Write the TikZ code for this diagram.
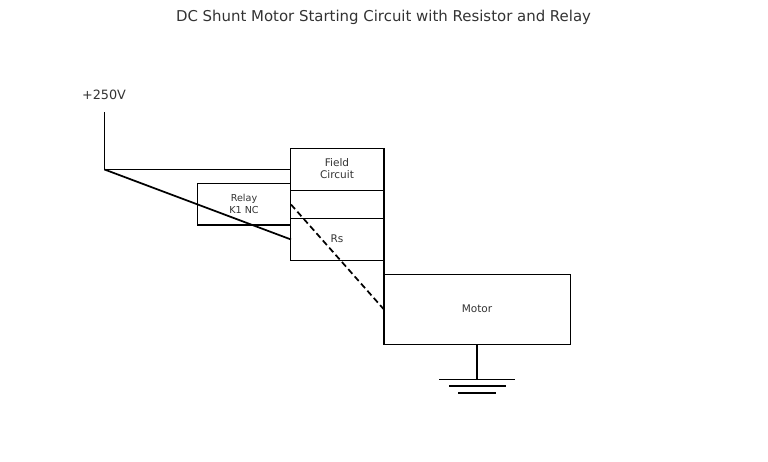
\documentclass[tikz,border=0pt]{standalone}
\usepackage{fontspec}
\setmainfont{DejaVu Sans}
\tikzset{
  x=0.75pt,y=-0.75pt,
  wire/.style={draw=black,line width=0.8pt},
  heavy wire/.style={draw=black,line width=1.3pt},
  block/.style={draw=black,line width=0.75pt,rectangle,inner sep=0pt,anchor=north west,fill=none},
  lab/.style={text=black!80,font=\fontsize{7.9pt}{9pt}\selectfont,align=center,inner sep=0pt},
  relaylab/.style={text=black!80,font=\fontsize{7.2pt}{8.4pt}\selectfont,align=center,inner sep=0pt},
  biglab/.style={text=black!80,font=\fontsize{11.2pt}{13pt}\selectfont,inner sep=0pt}
}
\begin{document}
\begin{tikzpicture}
\useasboundingbox (0,0) rectangle (768,461);
\node[biglab] (title) at (383.5,17.5) {DC Shunt Motor Starting Circuit with Resistor and Relay};
\node[biglab,font=\fontsize{9.6pt}{12pt}\selectfont] (vlabel) at (104,95) {+250V};
\node[block,minimum width=70.5pt,minimum height=31.5pt] (field) at (289.5,147.5) {};
\node[lab] (fieldt) at (337,168.5) {Field\\Circuit};
\node[block,minimum width=70.5pt,minimum height=21pt] (gap) at (289.5,189.5) {};
\node[block,minimum width=70.5pt,minimum height=31.5pt] (rs) at (289.5,217.5) {};
\node[lab] (rst) at (337,238.5) {Rs};
\node[block,minimum width=70pt,minimum height=32pt] (relay) at (196.5,182.5) {};
\node[relaylab] (relayt) at (244,204) {Relay\\K1 NC};
\node[block,minimum width=140pt,minimum height=52.5pt] (motor) at (383.5,273.5) {};
\node[lab] (motort) at (477,309) {Motor};
\coordinate (top) at (104.5,112);
\coordinate (junction) at (104.5,169.5);
\coordinate (fieldin) at (291,169.5);
\coordinate (rsin) at (291,239.5);
\coordinate (dashstart) at (291,204.5);
\coordinate (dashend) at (384,309.5);
\coordinate (bustop) at (384,148);
\coordinate (busbot) at (384,344.5);
\coordinate (relayl) at (197,225);
\coordinate (relayr) at (290,225);
\coordinate (gndtop) at (477,344);
\coordinate (gndbot) at (477,380);
\coordinate (g1l) at (439,379.5);\coordinate (g1r) at (515,379.5);
\coordinate (g2l) at (449,386);\coordinate (g2r) at (506,386);
\coordinate (g3l) at (458,393);\coordinate (g3r) at (496,393);
\draw[wire] (top) -- (junction) -- (fieldin);
\draw[heavy wire] (junction) -- (rsin);
\draw[heavy wire] (relayl) -- (relayr);
\draw[heavy wire,dash pattern=on 4.6pt off 2.6pt] (dashstart) -- (dashend);
\draw[heavy wire] (bustop) -- (busbot);
\draw[heavy wire] (gndtop) -- (gndbot);
\draw[wire] (g1l) -- (g1r);
\draw[heavy wire] (g2l) -- (g2r);
\draw[heavy wire] (g3l) -- (g3r);
\end{tikzpicture}
\end{document}
